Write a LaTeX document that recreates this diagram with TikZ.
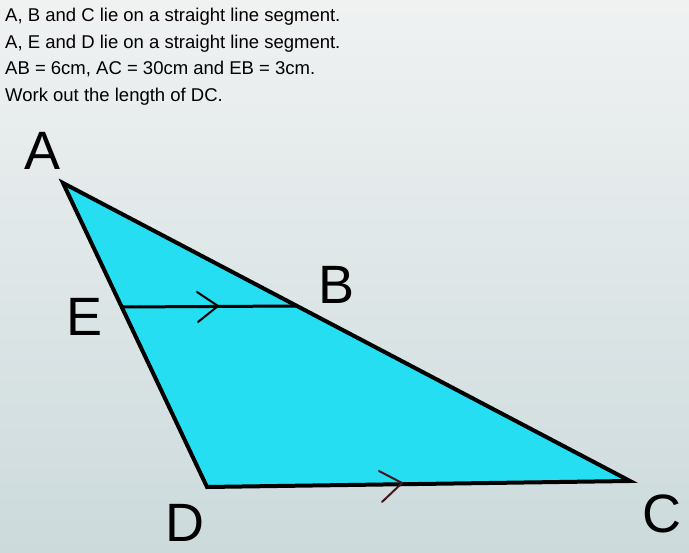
\documentclass[tikz,border=0pt]{standalone}
\usepackage{fontspec}
\setmainfont{Liberation Sans}
\usepackage{tikz}
\usetikzlibrary{positioning}

\definecolor{triangle}{RGB}{38,222,242}
\definecolor{paper top}{RGB}{240,242,242}
\definecolor{paper bottom}{RGB}{204,218,220}
\definecolor{tickred}{RGB}{70,20,30}

\tikzset{
    question/.style={anchor=base west, inner sep=0pt, font=\fontsize{18.5}{20}\selectfont},
    vertex/.style={inner sep=0pt, font=\fontsize{54}{60}\selectfont},
    side/.style={line width=4pt, line join=miter},
    tick/.style={line width=2pt, line cap=round}
}

\begin{document}
\begin{tikzpicture}[x=1pt, y=-1pt]
    % Background
    \shade[top color=paper top, bottom color=paper bottom] (0,0) rectangle (689,553);
    \useasboundingbox (0,0) rectangle (689,553);

    % Question text
    \node[question] (line1) at (5,22) {A, B and C lie on a straight line segment.};
    \node[question] (line2) at (5,48.5) {A, E and D lie on a straight line segment.};
    \node[question] (line3) at (5,75) {AB = 6cm, AC = 30cm and EB = 3cm.};
    \node[question] (line4) at (5,102) {Work out the length of DC.};

    % Points
    \coordinate (A) at (63,183);
    \coordinate (B) at (297,306);
    \coordinate (C) at (630,481);
    \coordinate (D) at (207,487);
    \coordinate (E) at (122,307);

    % Triangle
    \fill[triangle] (A) -- (C) -- (D) -- cycle;
    \draw[side] (A) -- (C) -- (D) -- cycle;
    \draw[line width=3pt] (E) -- (B);

    % Parallel marks
    \coordinate (mark1) at (218,306);
    \coordinate (mark2) at (402,483);
    \draw[tick] (mark1) ++(-21,-14) -- (mark1) -- ++(-20,16);
    \draw[tick, tickred] (mark2) ++(-23,-12) -- (mark2) -- ++(-20,19);

    % Labels
    \node[vertex] (labelA) at (43,151) {A};
    \node[vertex] (labelB) at (337,285) {B};
    \node[vertex] (labelE) at (85,317) {E};
    \node[vertex] (labelD) at (185,523) {D};
    \node[vertex] (labelC) at (662,514) {C};
\end{tikzpicture}
\end{document}
